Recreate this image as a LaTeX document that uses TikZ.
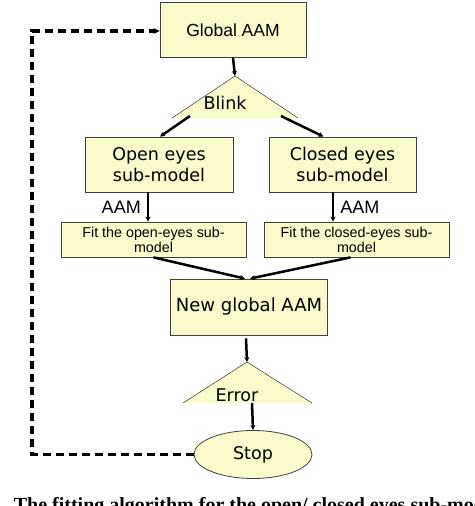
\documentclass[tikz,border=0pt]{standalone}
\usepackage{fontspec}
\setmainfont{Liberation Sans}
\newfontfamily\dejavu{DejaVu Sans}
\newfontfamily\capfont{Liberation Serif}
\usetikzlibrary{arrows.meta,shapes.geometric}
\definecolor{aamfill}{RGB}{250,250,202}

\begin{document}
\begin{tikzpicture}[
  x=1pt, y=-1pt,
  every node/.style={inner sep=0pt},
  box/.style={draw=black!75, line width=0.8pt, fill=aamfill, align=center},
  side/.style={draw=black!80, line width=0.5pt},
  arrow/.style={-{Stealth[length=5pt,width=5pt]}, line width=2.5pt},
  feedback/.style={-{Stealth[length=6pt,width=6pt]}, line width=3.2pt, dash pattern=on 8pt off 5pt},
]
  \clip (0,0) rectangle (474,506);
  \useasboundingbox (0,0) rectangle (474,506);

  % Global model
  \node[box, minimum width=146pt, minimum height=55pt,
    font=\fontsize{17.5}{20}\selectfont] (glob) at (233,30) {Global AAM};

  % Blink test
  \coordinate (blinktop) at (235,76);
  \fill[aamfill] (blinktop) -- ++(-63,42) coordinate (blinkleft) -- ++(126,0) coordinate (blinkright) -- cycle;
  \draw[side] (blinkleft) -- (blinktop) -- (blinkright);
  \node[font=\dejavu\fontsize{17.5}{20}\selectfont] (blink) at (225,103) {Blink};

  % Sub-models
  \node[box, minimum width=148pt, minimum height=55pt,
    font=\dejavu\fontsize{17.5}{21}\selectfont] (open) at (159,164.5) {Open eyes\\sub-model};
  \node[box, minimum width=147pt, minimum height=55pt,
    font=\dejavu\fontsize{17.5}{21}\selectfont] (closed) at (342.5,164.5) {Closed eyes\\sub-model};

  % Fitting
  \node[box, minimum width=185pt, minimum height=35pt,
    font=\fontsize{14.3}{15}\selectfont] (fitopen) at (153.5,239.5) {Fit the open-eyes sub-\\model};
  \node[box, minimum width=185pt, minimum height=35pt,
    font=\fontsize{14.3}{15}\selectfont] (fitclosed) at (356.5,239.5) {Fit the closed-eyes sub-\\model};

  % New model, error test, stop
  \node[box, minimum width=157pt, minimum height=56pt,
    font=\dejavu\fontsize{18}{21}\selectfont] (newg) at (249,307) {New global AAM};
  \coordinate (errtop) at (247,362);
  \fill[aamfill] (errtop) -- ++(-64,41) coordinate (errleft) -- ++(129,0) coordinate (errright) -- cycle;
  \draw[side] (errleft) -- (errtop) -- (errright);
  \node[font=\dejavu\fontsize{17.5}{20}\selectfont] (err) at (237,395) {Error};
  \node[box, ellipse, minimum width=118pt, minimum height=48pt,
    font=\dejavu\fontsize{17.5}{20}\selectfont] (stop) at (253,454.5) {Stop};

  % Caption
  \node[anchor=base west, font=\capfont\bfseries\fontsize{20}{22}\selectfont] (caption)
    at (2,511) {. The fitting algorithm for the open/ closed eyes sub-models};

  % Arrows
  \draw[arrow] (glob.south) -- (blinktop);
  \draw[arrow] ([xshift=18pt,yshift=2pt]blinkleft) -- ([xshift=1pt]open.north);
  \draw[arrow] ([xshift=-17pt,yshift=2pt]blinkright) -- ([xshift=-19pt]closed.north);
  \draw[arrow] ([xshift=-11pt]open.south) -- ([xshift=-11pt]open.south |- fitopen.north)
    node[midway, left=6pt, font=\fontsize{18}{20}\selectfont] (aamopen) {AAM};
  \draw[arrow] ([xshift=-9.5pt]closed.south) -- ([xshift=-9.5pt]closed.south |- fitclosed.north)
    node[midway, right=6pt, font=\fontsize{18}{20}\selectfont] (aamclosed) {AAM};
  \draw[arrow] (fitopen.south) -- ([xshift=-4pt]newg.north);
  \draw[arrow] ([xshift=-6pt]fitclosed.south) -- ([xshift=1pt]newg.north);
  \draw[arrow] ([xshift=-3pt,yshift=-3pt]newg.south) -- (errtop);
  \draw[arrow] ([xshift=69pt]errleft) -- (stop.north);

  % Loop back
  \coordinate (back) at (32,31);
  \draw[feedback] (stop.west) -| (back) -- (glob.west |- back);

\end{tikzpicture}
\end{document}
